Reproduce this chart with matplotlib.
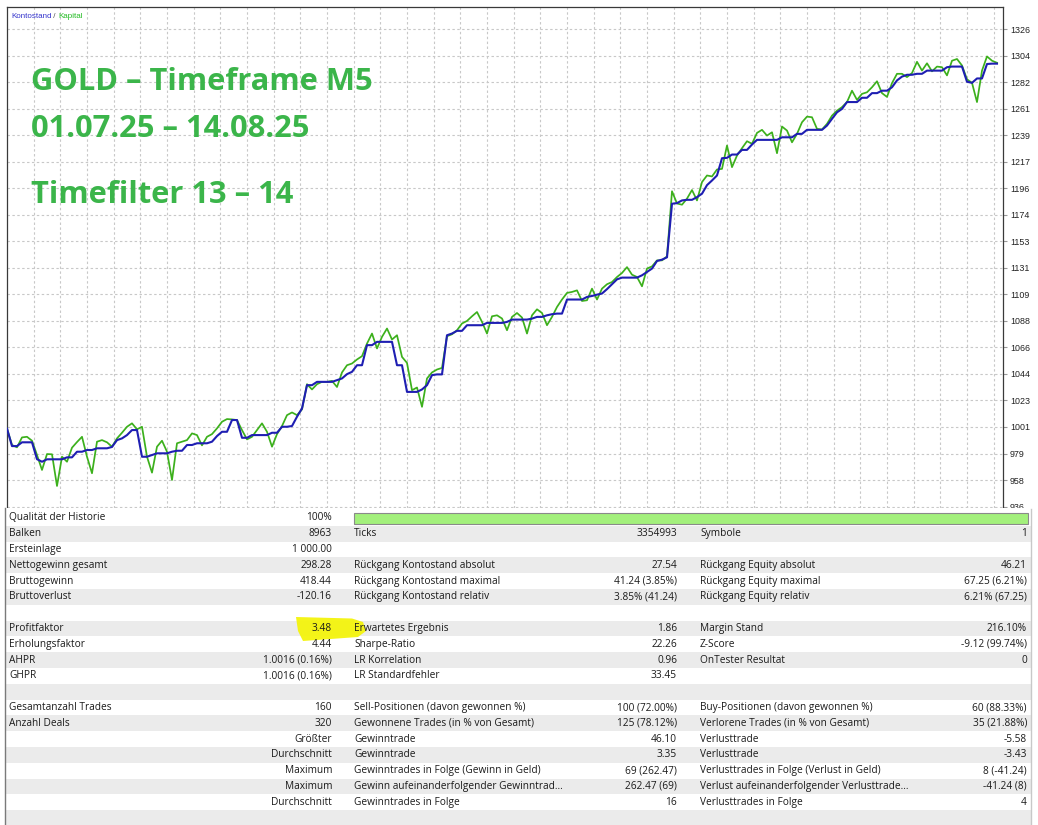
import numpy as np
import matplotlib
matplotlib.use("Agg")
import matplotlib.pyplot as plt
from matplotlib.patches import Rectangle, Polygon

# ---------------- data ----------------
balance = [
    1000.0, 985.7, 985.7, 988.8, 988.8, 988.8, 975.0, 972.9, 974.9, 974.9,
    974.9, 974.9, 976.5, 976.5, 981.1, 981.1, 982.5, 982.5, 983.9, 983.9,
    983.9, 985.0, 990.6, 992.0, 994.7, 998.8, 998.8, 977.0, 977.0, 978.4,
    979.8, 979.8, 979.8, 981.1, 981.9, 981.9, 986.6, 986.6, 988.0, 988.0,
    988.0, 989.3, 993.9, 997.4, 997.4, 1007.0, 1007.0, 992.5, 992.5, 994.7,
    994.7, 994.7, 994.7, 996.6, 996.6, 1001.5, 1001.5, 1002.1, 1009.7, 1016.5,
    1035.5, 1035.5, 1038.2, 1038.2, 1038.2, 1038.2, 1039.6, 1041.0, 1044.5, 1046.4,
    1051.8, 1051.8, 1068.2, 1068.2, 1070.9, 1070.9, 1070.9, 1070.9, 1051.8, 1051.8,
    1030.0, 1030.0, 1030.0, 1032.0, 1035.5, 1043.7, 1044.3, 1044.3, 1076.3, 1077.7,
    1079.9, 1079.9, 1084.5, 1084.5, 1084.5, 1084.5, 1086.4, 1086.4, 1086.4, 1086.4,
    1087.2, 1089.1, 1089.1, 1089.1, 1089.1, 1089.9, 1091.3, 1091.3, 1092.6, 1093.5,
    1094.0, 1094.0, 1105.5, 1105.5, 1105.5, 1105.5, 1107.6, 1108.4, 1109.5, 1110.4,
    1114.0, 1118.0, 1122.0, 1123.4, 1123.4, 1123.4, 1123.4, 1125.3, 1128.0, 1130.8,
    1137.0, 1138.1, 1140.0, 1183.8, 1184.3, 1186.5, 1187.0, 1187.0, 1189.2, 1192.0,
    1199.0, 1202.8, 1206.9, 1221.0, 1221.3, 1224.0, 1224.0, 1227.8, 1227.8, 1232.2,
    1236.0, 1236.0, 1236.0, 1236.0, 1236.0, 1238.1, 1238.1, 1238.1, 1240.9, 1240.9,
    1244.2, 1244.2, 1244.2, 1244.2, 1247.7, 1253.2, 1258.5, 1261.3, 1266.9, 1266.9,
    1266.9, 1270.4, 1270.4, 1274.2, 1274.2, 1276.2, 1276.2, 1279.0, 1284.6, 1287.7,
    1289.2, 1289.2, 1290.0, 1290.0, 1292.6, 1292.6, 1292.6, 1292.6, 1295.4, 1295.9,
    1295.9, 1295.9, 1283.5, 1282.6, 1286.2, 1286.2, 1298.0, 1298.3, 1298.3,
]

equity = [
    1000.0, 986.6, 984.7, 992.8, 993.3, 990.1, 978.4, 966.2, 979.2, 979.0,
    953.1, 977.0, 972.9, 984.4, 989.0, 993.3, 977.0, 963.5, 989.3, 990.6,
    988.8, 985.2, 992.0, 996.6, 1001.5, 1004.3, 999.4, 1001.5, 977.0, 964.0,
    985.2, 990.1, 981.1, 958.0, 988.0, 989.3, 990.6, 996.1, 994.7, 986.3,
    993.3, 995.5, 1000.2, 1005.6, 1007.8, 1007.5, 1007.0, 998.8, 991.2, 993.3,
    998.8, 1004.3, 997.4, 985.2, 995.5, 1002.1, 1011.0, 1013.2, 1011.0, 1015.7,
    1036.3, 1032.0, 1036.3, 1038.2, 1038.2, 1039.0, 1034.0, 1045.9, 1051.8, 1053.2,
    1056.5, 1059.2, 1069.5, 1077.7, 1065.5, 1075.0, 1081.8, 1072.8, 1076.3, 1058.6,
    1053.7, 1031.4, 1033.6, 1017.8, 1041.0, 1045.9, 1048.3, 1049.6, 1075.5, 1077.1,
    1080.4, 1085.9, 1088.0, 1091.8, 1095.3, 1087.2, 1077.7, 1091.8, 1092.6, 1090.0,
    1080.4, 1091.3, 1094.5, 1090.8, 1077.7, 1092.6, 1097.5, 1094.5, 1084.5, 1091.3,
    1099.4, 1105.5, 1110.9, 1111.7, 1113.0, 1104.3, 1104.9, 1114.4, 1105.5, 1114.4,
    1118.0, 1119.8, 1123.9, 1127.2, 1132.0, 1125.8, 1123.9, 1116.3, 1130.8, 1132.6,
    1137.5, 1137.5, 1140.8, 1194.0, 1184.0, 1183.0, 1188.0, 1195.0, 1186.5, 1201.5,
    1206.9, 1206.1, 1211.8, 1212.3, 1231.4, 1213.7, 1223.2, 1229.2, 1234.9, 1232.8,
    1241.7, 1244.2, 1239.5, 1242.2, 1225.1, 1246.9, 1243.6, 1234.0, 1240.9, 1250.4,
    1255.0, 1254.5, 1245.0, 1244.5, 1249.1, 1255.8, 1259.9, 1262.8, 1266.9, 1276.2,
    1268.7, 1273.6, 1274.9, 1279.0, 1283.9, 1274.2, 1271.1, 1282.4, 1290.0, 1290.0,
    1287.3, 1290.6, 1299.8, 1292.6, 1298.6, 1292.0, 1295.9, 1295.4, 1288.7, 1300.7,
    1302.1, 1296.8, 1285.5, 1282.6, 1266.9, 1292.6, 1304.2, 1300.7, 1299.0,
]

ytick_labels = ["936", "958", "979", "1001", "1023", "1044", "1066", "1088", "1109",
                "1131", "1153", "1174", "1196", "1217", "1239", "1261", "1282",
                "1304", "1326"]

title_lines = ["GOLD \u2013 Timeframe M5", "01.07.25 \u2013 14.08.25", "Timefilter 13 \u2013 14"]

col1_labels = ["Qualität der Historie", "Balken", "Ersteinlage", "Nettogewinn gesamt",
               "Bruttogewinn", "Bruttoverlust", "", "Profitfaktor", "Erholungsfaktor",
               "AHPR", "GHPR", "", "Gesamtanzahl Trades", "Anzahl Deals",
               "", "", "", "", "", ""]
col1_values = ["100%", "8963", "1 000.00", "298.28", "418.44", "-120.16", "", "3.48",
               "4.44", "1.0016 (0.16%)", "1.0016 (0.16%)", "", "160", "320",
               "Größter", "Durchschnitt", "Maximum", "Maximum", "Durchschnitt", ""]
col2_labels = ["", "Ticks", "", "Rückgang Kontostand absolut", "Rückgang Kontostand maximal",
               "Rückgang Kontostand relativ", "", "Erwartetes Ergebnis", "Sharpe-Ratio",
               "LR Korrelation", "LR Standardfehler", "",
               "Sell-Positionen (davon gewonnen %)", "Gewonnene Trades (in % von Gesamt)",
               "Gewinntrade", "Gewinntrade", "Gewinntrades in Folge (Gewinn in Geld)",
               "Gewinn aufeinanderfolgender Gewinntrad...", "Gewinntrades in Folge", ""]
col2_values = ["", "3354993", "", "27.54", "41.24 (3.85%)", "3.85% (41.24)", "", "1.86",
               "22.26", "0.96", "33.45", "", "100 (72.00%)", "125 (78.12%)", "46.10",
               "3.35", "69 (262.47)", "262.47 (69)", "16", ""]
col3_labels = ["", "Symbole", "", "Rückgang Equity absolut", "Rückgang Equity maximal",
               "Rückgang Equity relativ", "", "Margin Stand", "Z-Score", "OnTester Resultat",
               "", "", "Buy-Positionen (davon gewonnen %)", "Verlorene Trades (in % von Gesamt)",
               "Verlusttrade", "Verlusttrade", "Verlusttrades in Folge (Verlust in Geld)",
               "Verlust aufeinanderfolgender Verlusttrade...", "Verlusttrades in Folge", ""]
col3_values = ["", "1", "", "46.21", "67.25 (6.21%)", "6.21% (67.25)", "", "216.10%",
               "-9.12 (99.74%)", "0", "", "", "60 (88.33%)", "35 (21.88%)", "-5.58",
               "-3.43", "8 (-41.24)", "-41.24 (8)", "4", ""]

# ---------------- styling ----------------
BLUE = "#1e1eb2"
GREEN = "#3cb01c"
TITLE_GREEN = "#3bb54a"
GRID = "#c8c8c8"
TABLE_FONT = "Open Sans"

W, H = 1038, 825
fig = plt.figure(figsize=(W / 100, H / 100), dpi=100)
fig.patch.set_facecolor("white")


def frac(x0, y0, x1, y1):
    return [x0 / W, 1 - y1 / H, (x1 - x0) / W, (y1 - y0) / H]


# ---------------- chart ----------------
ax = fig.add_axes(frac(7, 7, 1003, 508))
t = np.arange(len(balance))
ax.plot(t, equity, color=GREEN, lw=1.25, zorder=3)
ax.plot(t, balance, color=BLUE, lw=1.5, zorder=4)

ax.set_xlim(0, 199.2)
ax.set_ylim(935.1, 1344.6)

ystep = 21.67
yticks = 936.3 + ystep * np.arange(len(ytick_labels))
ax.set_yticks(yticks)
ax.set_yticklabels(ytick_labels, fontfamily="Liberation Sans", fontsize=6.4, color="#222222")
ax.yaxis.tick_right()
ax.tick_params(axis="y", length=3, width=0.8, color="#999999", pad=2)

ax.set_xticks(np.arange(16 / 3, 199.2, 16 / 3))
ax.tick_params(axis="x", length=0, labelbottom=False)

ax.grid(True, color=GRID, linestyle=(0, (2.2, 2.2)), lw=0.8, zorder=0)
ax.set_axisbelow(True)
for s in ["top", "left", "right"]:
    ax.spines[s].set_color("#3a3a3a")
    ax.spines[s].set_linewidth(0.9)
ax.spines["bottom"].set_visible(False)

# legend text
leg1 = ax.text(0.004, 0.988, "Kontostand", transform=ax.transAxes, fontsize=5.8,
               fontfamily="Liberation Sans", color="#3333cc", va="top", ha="left")
leg2 = ax.annotate(" / ", xy=(1, 0), xycoords=leg1, fontsize=5.8, va="bottom",
                   fontfamily="Liberation Sans", color="#555555")
ax.annotate("Kapital", xy=(1, 0), xycoords=leg2, fontsize=5.8, va="bottom",
            fontfamily="Liberation Sans", color="#22bb22")

# ---------------- overlay (titles + table) ----------------
ov = fig.add_axes([0, 0, 1, 1], zorder=5)
ov.set_xlim(0, W)
ov.set_ylim(H, 0)
ov.axis("off")
ov.patch.set_alpha(0)

for txt, yb in zip(title_lines, [90, 137, 203]):
    ov.text(31, yb, txt, fontsize=22.2, fontweight="bold", fontfamily="Open Sans",
            color=TITLE_GREEN, va="baseline", ha="left")

# table background
ov.add_patch(Rectangle((0, 508.0), W, H - 508.0, fc="white", ec="none", zorder=1))
row_h = 15.8
top = 510
nrows = len(col1_labels)
for k in range(nrows):
    y0 = top + row_h * k
    if k % 2 == 1:
        ov.add_patch(Rectangle((6, y0), 1025, row_h, fc="#ebebeb", ec="none", zorder=2))
ov.plot([5, 5], [508, H], color="#7a7a7a", lw=1.0, zorder=3)
ov.plot([1031, 1031], [509, H], color="#c8c8c8", lw=1.0, zorder=3)

# quality bar
ov.add_patch(Rectangle((354, 512.5), 674, 11, fc="#a3f07c", ec="#8a8a8a", lw=0.8, zorder=3))

# highlight marker behind 3.48
ov.add_patch(Polygon([(296, 617), (352, 618.5), (363, 622), (366, 631), (358, 637),
                      (303, 641), (298, 631)], closed=True, fc="#f4f40c", ec="none",
                     alpha=0.95, zorder=3))

tkw = dict(fontsize=7.3, fontfamily=TABLE_FONT, color="#1a1a1a", va="center", zorder=4)
for k in range(nrows):
    yc = top + row_h * k + row_h / 2
    ov.text(9, yc, col1_labels[k], ha="left", **tkw)
    ov.text(332, yc, col1_values[k], ha="right", **tkw)
    ov.text(354, yc, col2_labels[k], ha="left", **tkw)
    ov.text(677, yc, col2_values[k], ha="right", **tkw)
    ov.text(700, yc, col3_labels[k], ha="left", **tkw)
    ov.text(1027, yc, col3_values[k], ha="right", **tkw)

fig.savefig("out.png", dpi=100, facecolor="white")
